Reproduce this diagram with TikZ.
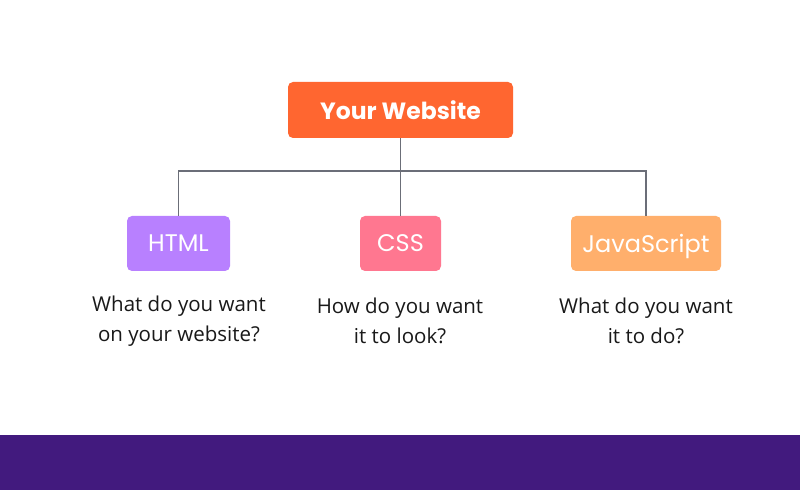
\documentclass[tikz,border=0pt]{standalone}
\usepackage{fontspec}
\setmainfont{Poppins}
\newfontfamily\descfont{Open Sans}
\definecolor{topc}{HTML}{FF6630}
\definecolor{htmlc}{HTML}{B880FF}
\definecolor{cssc}{HTML}{FF7790}
\definecolor{jsc}{HTML}{FFAF6C}
\definecolor{band}{HTML}{421A7E}
\definecolor{linec}{HTML}{6B6E78}
\begin{document}
\begin{tikzpicture}[x=1pt,y=1pt,
  box/.style={rounded corners=5pt, inner sep=0pt, text=white},
  lab/.style={font=\fontsize{24}{28}\selectfont, text depth=1pt},
  desc/.style={align=center, font=\descfont\fontsize{20.5}{30}\selectfont, text=black!90},
  conn/.style={draw=linec, line width=1.4pt}]
\useasboundingbox (0,0) rectangle (800,490);
\fill[white] (0,0) rectangle (800,490);
\fill[band] (0,0) rectangle (800,55);
\node[box, fill=topc, minimum width=225, minimum height=56, font=\fontsize{23.5}{26}\selectfont\bfseries] (top) at (400.5,380) {Your Website};
\node[box, lab, fill=htmlc, minimum width=103, minimum height=55] (html) at (178.5,246.5) {HTML};
\node[box, lab, fill=cssc, minimum width=81, minimum height=55] (css) at (400.5,246.5) {CSS};
\node[box, lab, fill=jsc, minimum width=150, minimum height=55] (js) at (646,246.5) {JavaScript};
\coordinate (j) at (400.5,319);
\draw[conn] (top.south) -- (css.north);
\draw[conn] (html.north) |- (j) -| (js.north);
\node[desc] (d1) at (179,169) {What do you want\\on your website?};
\node[desc] (d2) at (400,169) {How do you want\\it to look?};
\node[desc] (d3) at (646,169) {What do you want\\it to do?};
\end{tikzpicture}
\end{document}
